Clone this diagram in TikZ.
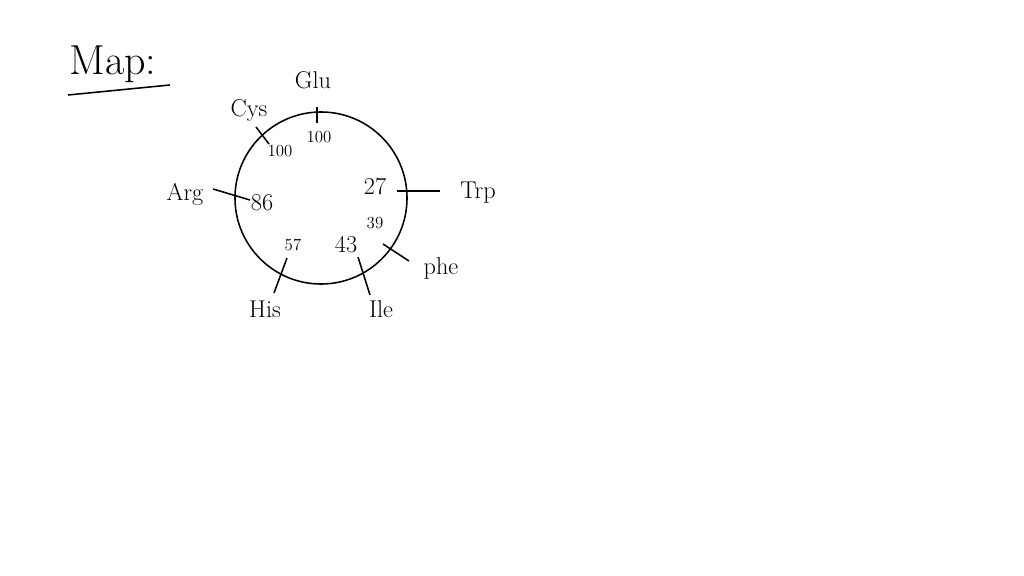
\documentclass[tikz,border=0pt]{standalone}
\usepackage{tikz}
\usepackage{xcolor}

\begin{document}
\begin{tikzpicture}[x=0.025cm,y=-0.025cm,
  acid/.style={font=\LARGE},
  dist/.style={font=\normalsize},
  cut/.style={line width=1.1pt}]
\useasboundingbox (0,0) rectangle (1024,576);
\node [draw,circle,line width=1.1pt,minimum size=4.3cm,inner sep=0] (ring) at (321,198) {};
  \foreach \aa/\ax/\ay/\bx/\by/\lx/\ly in {Glu/317/107/317/123/313/80,Cys/256/127/269/144/249/110,Arg/213/189/250/200/185/194,Trp/397/191/440/191/478/193,phe/383/244/409/261/441/268,Ile/358/257/370/295/381/309,His/287/258/274/293/265/309}
  {  \coordinate (\aa-in) at (\ax,\ay);
     \coordinate (\aa-out) at (\bx,\by);
     \draw [cut] (\aa-in) -- (\aa-out);
     \node [acid] (\aa) at (\lx,\ly) {\aa};}
  \foreach \nm/\val/\sz/\px/\py in {glu/100/\large/319/137,cys/100/\large/280/151,arg/86/\LARGE/262/203,trp/27/\LARGE/375/186,phe/39/\large/375/223,ile/43/\LARGE/346/245,his/57/\large/293/245}
  {  \node [dist,font=\sz] (\nm-d) at (\px,\py) {\val};}
\node [font=\Huge,scale=1.2] (title) at (113,64) {Map:};
\coordinate (ul-a) at (68,95);
\coordinate (ul-b) at (170,85);
\draw [cut] (ul-a) -- (ul-b);
\end{tikzpicture}
\end{document}
